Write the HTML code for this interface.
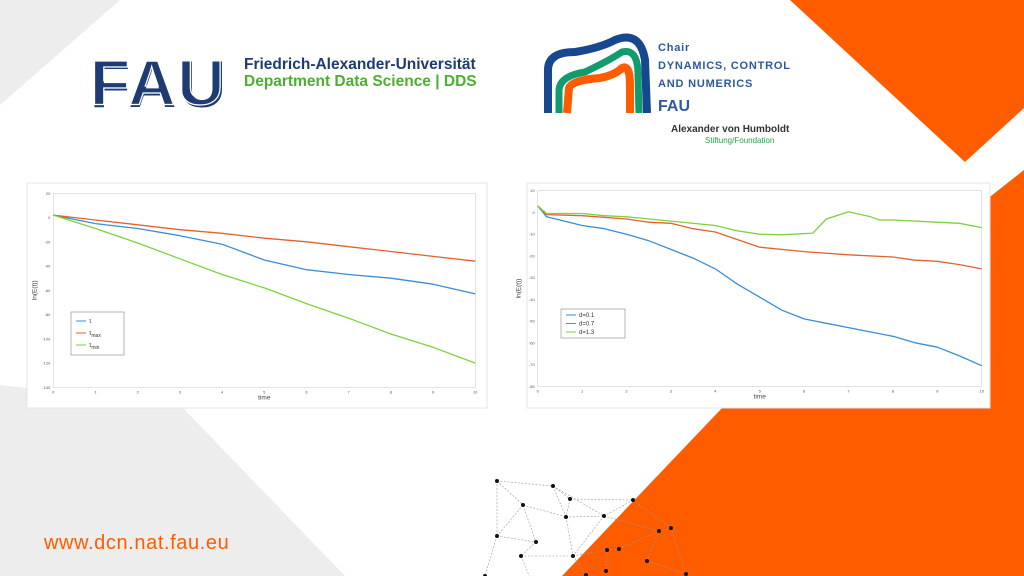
<!DOCTYPE html>
<html><head><meta charset="utf-8"><style>
html,body{margin:0;padding:0;background:#fff}
#root{position:relative;width:1024px;height:576px;overflow:hidden;font-family:"Liberation Sans",sans-serif}
svg{position:absolute;left:0;top:0}
</style></head><body>
<div id="root">
<svg id="bg" width="1024" height="576">
<polygon points="0,0 120,0 0,105" fill="#ededed"/>
<polygon points="0,385 180,405 345,576 0,576" fill="#ededed"/>
<polygon points="790,0 1024,0 1024,108 965,162" fill="#ff5c00"/>
<polygon points="1024,170 723,407 562,576 1024,576" fill="#ff5c00"/>
<g id="net"></g>
<text x="44" y="549" font-size="20" fill="#ff5c00" letter-spacing="0.6">www.dcn.nat.fau.eu</text>
<g>
<text x="90" y="107" font-size="66" font-weight="bold" fill="#1f3b73" letter-spacing="2">FAU</text>
<text x="90" y="107" font-size="66" font-weight="bold" fill="none" stroke="#fff" stroke-width="1.3" letter-spacing="2" transform="translate(1.5,-1) scale(0.985)">FAU</text>
<text x="244" y="69" font-size="15.5" font-weight="bold" fill="#1f3b73">Friedrich-Alexander-Universität</text>
<text x="244" y="86" font-size="15.5" font-weight="bold" fill="#4caf32">Department Data Science | DDS</text>
</g>
<g>
<path d="M548,113 L548,70 Q548,52 575,52 Q600,48 615,40 Q640,30 645,60 L647,113" fill="none" stroke="#17478f" stroke-width="8"/>
<path d="M559,113 L559,90 Q560,76 585,72 Q610,60 622,52 Q638,48 638,75 L639,113" fill="none" stroke="#119b6f" stroke-width="7"/>
<path d="M567,113 L569,88 Q572,80 600,78 Q615,75 622,68 Q630,64 630,85 L630,113" fill="none" stroke="#ff5c00" stroke-width="8"/>
<text x="658" y="51" font-size="11" font-weight="bold" fill="#2d5a9c" letter-spacing="0.8">Chair</text>
<text x="658" y="69" font-size="11" font-weight="bold" fill="#2d5a9c" letter-spacing="0.8">DYNAMICS, CONTROL</text>
<text x="658" y="87" font-size="11" font-weight="bold" fill="#2d5a9c" letter-spacing="0.8">AND NUMERICS</text>
<text x="658" y="111" font-size="16" font-weight="bold" fill="#2d5a9c">FAU</text>
<text x="671" y="132" font-size="10" font-weight="bold" fill="#333">Alexander von Humboldt</text>
<text x="705" y="143" font-size="8" fill="#2aa34a">Stiftung/Foundation</text>
</g>
</svg>
<svg id="chart1" width="1024" height="576"></svg>
<svg id="chart2" width="1024" height="576"></svg>
</div>
<script>
// ---- Chart 1 data ----
const tGrid1 = [0,1,2,3,4,5,6,7,8,9,10];
const tauVals = [2,-5,-9,-15,-22,-35,-43,-47,-50,-55,-63];
const tauMaxVals = [2,-2,-6,-10,-13,-17,-20,-24,-28,-32,-36];
const tauMinVals = [2,-9,-21,-34,-47,-58,-71,-83,-96,-107,-120];
const yTicks1 = [20,0,-20,-40,-60,-80,-100,-120,-140];
const xTicks = [0,1,2,3,4,5,6,7,8,9,10];
// ---- Chart 2 data ----
const tBlue2 = [0,0.2,0.5,1,1.5,2,2.5,3,3.5,4,4.5,5,5.5,6,6.5,7,7.5,8,8.5,9,9.5,10];
const d01Vals = [3,-2,-3.5,-6,-7.5,-10,-13,-17,-21,-26,-33,-39,-45,-49,-51,-53,-55,-57,-60,-62,-66,-70.5];
const tOrange2 = [0,0.2,1,2,2.5,3,3.5,4,4.5,5,6,7,8,8.5,9,9.5,10];
const d07Vals = [3,-1,-1.5,-3,-4.5,-5,-7.5,-9,-12.5,-16,-18,-19.5,-20.5,-22,-22.5,-24,-26];
const tGreen2 = [0,0.2,1,1.5,2,3,4,4.5,5,5.5,6.2,6.5,7,7.5,7.7,8,9,9.5,10];
const d13Vals = [3,-0.5,-0.5,-1.5,-2,-4,-6,-8.5,-10,-10.3,-9.5,-3,0.3,-2,-3.5,-3.5,-4.5,-5,-7];
const yTicks2 = [10,0,-10,-20,-30,-40,-50,-60,-70,-80];

const NS="http://www.w3.org/2000/svg";
function mk(tag,attrs,parent){const e=document.createElementNS(NS,tag);for(const k in attrs)e.setAttribute(k,attrs[k]);parent.appendChild(e);return e;}

function drawChart(svg,box,ymax,ymin,yTicks,series,legend){
  const sx=v=>box.x0+(v/10)*(box.x1-box.x0);
  const sy=v=>box.y0+(ymax-v)/(ymax-ymin)*(box.y1-box.y0);
  const panel=mk('rect',{x:box.px,y:box.py,width:box.pw,height:box.ph,fill:'#fff',stroke:'#e4e4e4'},svg);
  
  
  const frame=mk('rect',{x:box.x0,y:box.y0,width:box.x1-box.x0,height:box.y1-box.y0,fill:'none',stroke:'#d0d0d0','stroke-width':0.6},svg);
  
  
  yTicks.forEach(v=>{
    const t=mk('text',{x:box.x0-3,y:sy(v)+1.5,'font-size':4,'text-anchor':'end',fill:'#555'},svg);t.textContent=v;
    
    
  });
  xTicks.forEach(v=>{
    const t=mk('text',{x:sx(v),y:box.y1+6,'font-size':4,'text-anchor':'middle',fill:'#555'},svg);t.textContent=v;
    
    
  });
  const xl=mk('text',{x:(box.x0+box.x1)/2,y:box.y1+12,'font-size':6.5,'text-anchor':'middle',fill:'#444'},svg);xl.textContent='time';
  
  
  const yl=mk('text',{x:0,y:0,'font-size':6.5,'text-anchor':'middle',fill:'#444',transform:`translate(${box.x0-17},${(box.y0+box.y1)/2}) rotate(-90)`},svg);yl.textContent='ln(E(t))';
  
  
  series.forEach(s=>{
    const d=s.t.map((t,i)=>(i?'L':'M')+sx(t).toFixed(1)+','+sy(s.v[i]).toFixed(1)).join(' ');
    const p=mk('path',{d:d,fill:'none',stroke:s.c,'stroke-width':1.3,'stroke-linejoin':'round'},svg);
    
    
  });
  const lg=mk('rect',{x:legend.x,y:legend.y,width:legend.w,height:legend.h,fill:'#fff',stroke:'#888','stroke-width':0.6},svg);
  
  
  legend.items.forEach((it,i)=>{
    const yy=legend.y+legend.first+i*legend.step;
    mk('line',{x1:legend.x+5,x2:legend.x+15,y1:yy,y2:yy,stroke:series[i].c,'stroke-width':1},svg);
    const t=mk('text',{x:legend.x+18,y:yy+2,'font-size':legend.fs,fill:'#333'},svg);
    t.innerHTML=it;
    
    
  });
}
drawChart(document.getElementById('chart1'),
 {px:27,py:183,pw:460,ph:225,x0:53.3,x1:475.3,y0:193.3,y1:387.3},20,-140,yTicks1,
 [{t:tGrid1,v:tauVals,c:'#3a8ed6',name:'line-tau'},{t:tGrid1,v:tauMaxVals,c:'#e2622e',name:'line-tau-max'},{t:tGrid1,v:tauMinVals,c:'#7ed23a',name:'line-tau-min'}],
 {x:71,y:312,w:53,h:43,first:9,step:12,fs:6,items:['τ','τ<tspan font-size="5" dy="2">max</tspan>','τ<tspan font-size="5" dy="2">min</tspan>']});
drawChart(document.getElementById('chart2'),
 {px:527,py:183,pw:463,ph:225,x0:537.7,x1:981.7,y0:190.7,y1:386.3},10,-80,yTicks2,
 [{t:tBlue2,v:d01Vals,c:'#3a8ed6',name:'line-d-0.1'},{t:tOrange2,v:d07Vals,c:'#e2622e',name:'line-d-0.7'},{t:tGreen2,v:d13Vals,c:'#7ed23a',name:'line-d-1.3'}],
 {x:561,y:309,w:64,h:29,first:6,step:8.5,fs:6,items:['d=0.1','d=0.7','d=1.3']});

const nodes=[[497,481],[553,486],[570,499],[523,505],[566,517],[604,516],[497,536],[536,542],[521,556],[573,556],[633,500],[659,531],[671,528],[647,561],[619,549],[607,550],[686,574],[586,575],[606,571],[485,576],[530,578]];
const edges=[[0,1],[1,2],[0,3],[3,4],[1,4],[2,4],[4,5],[2,10],[10,5],[5,11],[10,12],[11,12],[0,6],[3,6],[6,7],[3,7],[7,8],[4,9],[8,9],[9,15],[15,14],[14,11],[11,13],[13,16],[12,16],[15,18],[9,17],[6,19],[8,20],[1,5],[5,9]];
const net=document.getElementById('net');
edges.forEach(e=>{mk('line',{x1:nodes[e[0]][0],y1:nodes[e[0]][1],x2:nodes[e[1]][0],y2:nodes[e[1]][1],stroke:'#999','stroke-width':0.6,'stroke-dasharray':'2,1.5'},net);});
nodes.forEach(n=>{const c=mk('circle',{cx:n[0],cy:n[1],r:2,fill:'#111'},net);
 
 });
</script>
</body></html>
